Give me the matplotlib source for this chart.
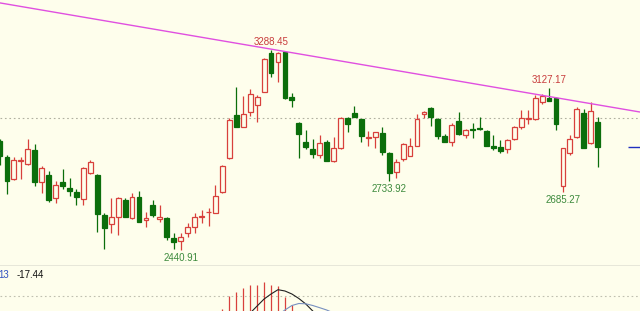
import matplotlib
matplotlib.use('Agg')
import matplotlib.pyplot as plt
from matplotlib.patches import Rectangle
import numpy as np

# daily candles (open, high, low, close)
opens = [2903, 2836.3, 2741.8, 2816.8, 2804.0, 2864.7, 2727.8, 2758.7, 2660.0, 2727.8,
         2704.9, 2685.4, 2657.0, 2765.9, 2758.7, 2589.2, 2549.8, 2579.4, 2652.8, 2575.2,
         2666.7, 2568.0, 2631.6, 2572.2, 2575.2, 2490.4, 2479.0, 2511.6, 2537.1, 2580.7,
         2599.8, 2598.9, 2685.4, 2829.5, 3013.0, 2963.4, 3024.4, 3055.4, 3111.7, 3274.5,
         3236.3, 3281.3, 3088.0, 2980.3, 2899.8, 2867.6, 2843.5, 2897.3, 2819.3, 2871.8,
         2999.0, 3020.2, 2994.8, 2914.2, 2918.5, 2938.0, 2850.7, 2772.7, 2824.4, 2841.3,
         2881.6, 3017.2, 3041.4, 2994.8, 2924.0, 2897.3, 2988.8, 2928.2, 2952.4, 2956.6,
         2946.5, 2881.6, 2877.4, 2867.6, 2910.0, 2963.4, 2994.8, 2994.8, 3069.3, 3086.3,
         3083.8, 2712.0, 2853.2, 2918.5, 3022.7, 2893.0, 2984.6]
highs = [2911, 2843.5, 2836.3, 2836.3, 2910.0, 2890.1, 2798.1, 2776.9, 2734.5, 2782.9,
         2747.3, 2698.1, 2792.6, 2822.3, 2762.9, 2596.4, 2660.0, 2664.2, 2660.0, 2681.1,
         2692.2, 2603.2, 2652.8, 2631.6, 2582.0, 2514.2, 2512.9, 2556.5, 2598.9, 2610.4,
         2617.6, 2716.3, 2801.1, 2999.0, 3130.4, 3093.5, 3123.2, 3097.8, 3253.3, 3288.45,
         3281.3, 3285.5, 3107.5, 2983.3, 2949.4, 2911.3, 2928.2, 2907.0, 2921.0, 3005.8,
         3005.8, 3052.4, 2996.0, 2946.5, 2942.2, 2960.9, 2857.4, 2826.5, 2895.6, 2914.2,
         3017.2, 3031.2, 3044.8, 2999.0, 2932.4, 2977.8, 3024.4, 2952.4, 2980.3, 3003.2,
         2949.4, 2928.2, 2907.0, 2910.0, 2966.4, 3034.2, 3034.2, 3097.8, 3102.0, 3127.17,
         3090.5, 2875.2, 2928.2, 3048.2, 3037.1, 3069.3, 3005.8]
lows = [2801, 2678.2, 2737.5, 2741.8, 2800.0, 2712.1, 2681.1, 2644.3, 2638.8, 2698.1,
        2669.7, 2631.6, 2631.6, 2762.9, 2518.4, 2443.5, 2511.6, 2504.4, 2580.7, 2572.2,
        2559.5, 2539.6, 2582.0, 2560.8, 2483.2, 2443.0, 2440.91, 2494.7, 2514.2, 2554.0,
        2542.6, 2597.6, 2682.4, 2826.5, 2962.1, 2960.9, 3008.8, 2984.6, 3110.4, 3175.3,
        3154.1, 3080.8, 3045.6, 2829.5, 2867.6, 2829.5, 2829.5, 2815.9, 2812.5, 2868.9,
        2942.2, 3003.2, 2899.8, 2881.6, 2871.8, 2843.5, 2733.92, 2744.7, 2818.0, 2839.2,
        2879.5, 2999.0, 2966.4, 2910.0, 2898.5, 2882.9, 2928.2, 2914.2, 2914.2, 2951.5,
        2879.5, 2864.7, 2853.2, 2851.9, 2907.0, 2952.4, 2974.8, 2991.8, 3058.3, 3070.2,
        2949.4, 2685.27, 2843.5, 2917.6, 2871.0, 2892.0, 2791.3]
closes = [2839, 2734.5, 2822.3, 2822.3, 2867.6, 2730.3, 2787.1, 2652.8, 2716.3, 2713.4,
          2690.9, 2666.7, 2787.1, 2815.1, 2592.2, 2532.8, 2582.0, 2662.5, 2582.0, 2666.7,
          2560.8, 2575.2, 2589.2, 2582.0, 2497.2, 2476.0, 2497.2, 2537.1, 2579.4, 2584.9,
          2603.2, 2671.0, 2796.8, 2991.8, 2963.4, 3016.0, 3100.7, 3088.0, 3249.0, 3189.7,
          3274.5, 3083.8, 3076.5, 2932.4, 2877.4, 2846.4, 2893.0, 2818.0, 2871.8, 2999.0,
          2974.8, 3005.8, 2925.2, 2918.5, 2939.7, 2857.4, 2765.9, 2815.1, 2889.2, 2881.6,
          2994.8, 3027.0, 3003.2, 2924.0, 2899.8, 2970.6, 2931.2, 2949.4, 2949.4, 2953.6,
          2882.9, 2874.4, 2861.7, 2904.9, 2960.9, 2999.0, 2999.0, 3083.8, 3093.5, 3072.3,
          2973.6, 2871.8, 2910.0, 3037.1, 2871.8, 3031.2, 2878.6]

# marked extremes: (candle index, label, above/below)
marks = [(39, '3288.45', 'hi'), (79, '3127.17', 'hi'),
         (26, '2440.91', 'lo'), (56, '2733.92', 'lo'), (81, '2685.27', 'lo')]

# pressure line and the 3000 guide
trend_x = [0, 92]
trend_y = [3488, 3026]
guide_level = 3000

# MACD panel (panel units, no scale shown)
hist_idx = [32, 33, 34, 35, 36, 37, 38, 39, 40, 41, 42]
hist_val = [2.5, 15, 19, 23, 26, 26.5, 29, 26.5, 25, 14, 6.5]
dif_idx = [35, 36, 37, 38, 39, 40, 41, 42, 43, 44, 45, 46]
dif_val = [-9, -2, 5, 12, 17, 21.3, 20, 17, 12.5, 7, 0, -7]
dea_idx = [39, 40, 41, 42, 43, 44, 45, 46, 47, 48, 49]
dea_val = [-9, -4, 1, 5.5, 7.5, 7.2, 5.5, 3.3, 1, -2, -5]
macd_zero_guide = 15

bg = '#FEFEEC'
up_col = '#D8403C'
dn_col = '#0B6E0B'
plt.rcParams['font.family'] = ['Liberation Sans', 'DejaVu Sans']

fig = plt.figure(figsize=(6.4, 3.11), dpi=100, facecolor=bg)
W, H = 640, 311
ax = fig.add_axes([0, 45 / H, 1, 266 / H], facecolor=bg)
ax2 = fig.add_axes([0, 0, 1, 45 / H], facecolor=bg)

xmax = W / 6.95
ax.set_xlim(0, xmax)
ax.set_ylim(2373, 3500.35)

body_w = 0.7
for i in range(len(opens)):
    o, h, l, c = opens[i], highs[i], lows[i], closes[i]
    col = up_col if c >= o else dn_col
    ax.vlines(i, l, h, color=col, lw=0.9, zorder=2)
    bot = min(o, c)
    ht = max(abs(c - o), 1.5)
    if c >= o:
        ax.add_patch(Rectangle((i - body_w / 2, bot), body_w, ht, facecolor=bg,
                               edgecolor=col, lw=0.9, zorder=3))
    else:
        ax.add_patch(Rectangle((i - body_w / 2, bot), body_w, ht, facecolor=col,
                               edgecolor=col, lw=0.9, zorder=3))

ax.plot(trend_x, trend_y, color='#E050E0', lw=1, zorder=4)
ax.axhline(guide_level, color='#B0B0A0', lw=0.8, ls=(0, (1.5, 2.5)), zorder=1)

# last price marker
ax.hlines(closes[-1], 90.4, xmax, color='#2030C0', lw=1)

for i, txt, side in marks:
    if side == 'hi':
        ax.annotate(txt, (i, highs[i]), xytext=(0, 2), textcoords='offset points',
                    ha='center', va='bottom', fontsize=7, color='#C83C3C')
    else:
        ax.annotate(txt, (i, lows[i]), xytext=(0, -2), textcoords='offset points',
                    ha='center', va='top', fontsize=7, color='#3C8A3C')

for a in (ax, ax2):
    a.set_xticks([])
    a.set_yticks([])
    for s in a.spines.values():
        s.set_visible(False)
ax.spines['bottom'].set_visible(True)
ax.spines['bottom'].set_color('#8C8C8C')
ax.spines['bottom'].set_linewidth(1)

# MACD panel
ax2.set_xlim(0, xmax)
ax2.set_ylim(0, 45)
ax2.axhline(macd_zero_guide, color='#C0C0B0', lw=0.8, ls=(0, (1.5, 2.5)))
ax2.vlines(hist_idx, -20, hist_val, color=up_col, lw=0.9)
ax2.plot(dif_idx, dif_val, color='#202020', lw=0.8)
ax2.plot(dea_idx, dea_val, color='#7890C0', lw=0.8)
fig.text(-2 / W, 1 - 274.5 / H, '13', fontsize=7, color='#3050C0', va='center')
fig.text(17 / W, 1 - 274.5 / H, '-17.44', fontsize=7, color='#101010', va='center')

fig.savefig('out.png', dpi=100, facecolor=bg)
